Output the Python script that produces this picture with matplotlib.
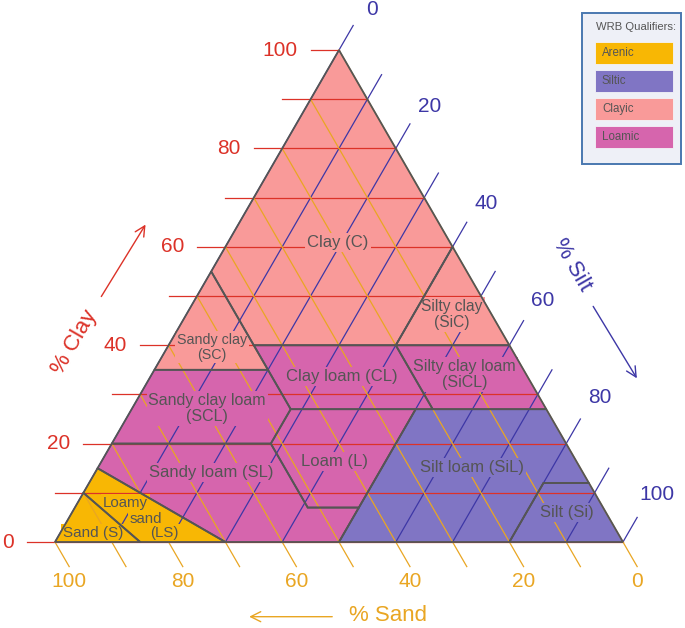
"""
Soil texture triangle with the WRB qualifiers (Arenic, Siltic, Clayic, Loamic).
"""
import numpy as np
import matplotlib.pyplot as plt
from matplotlib.patches import Polygon, Rectangle

plt.rcParams['font.family'] = ['Liberation Sans', 'DejaVu Sans']

# texture classes, vertices as (sand, silt, clay) in %
clay_c = [(0, 0, 100), (0, 40, 60), (20, 40, 40), (45, 15, 40), (45, 0, 55)]
silty_clay = [(0, 40, 60), (0, 60, 40), (20, 40, 40)]
sandy_clay = [(45, 0, 55), (45, 20, 35), (65, 0, 35)]
clay_loam = [(20, 40, 40), (20, 53, 27), (45, 28, 27), (45, 15, 40)]
silty_clay_loam = [(0, 60, 40), (0, 73, 27), (20, 53, 27), (20, 40, 40)]
sandy_clay_loam = [(65, 0, 35), (45, 20, 35), (45, 28, 27), (52, 28, 20), (80, 0, 20)]
loam = [(45, 28, 27), (23, 50, 27), (43, 50, 7), (52, 41, 7), (52, 28, 20)]
silt_loam = [(0, 73, 27), (23, 50, 27), (50, 50, 0), (20, 80, 0), (8, 80, 12), (0, 88, 12)]
silt = [(0, 88, 12), (8, 80, 12), (20, 80, 0), (0, 100, 0)]
sandy_loam = [(80, 0, 20), (52, 28, 20), (52, 41, 7), (43, 50, 7), (50, 50, 0), (70, 30, 0), (85, 0, 15)]
loamy_sand = [(85, 0, 15), (70, 30, 0), (85, 15, 0), (90, 0, 10)]
sand = [(90, 0, 10), (85, 15, 0), (100, 0, 0)]

# WRB qualifier of each class
qualifiers = ['Arenic', 'Siltic', 'Clayic', 'Loamic']
qualifier_colors = ['#F8B704', '#8075C4', '#F99A99', '#D665AD']
classes = [
    (clay_c, 'Clayic'), (silty_clay, 'Clayic'), (sandy_clay, 'Clayic'),
    (clay_loam, 'Loamic'), (silty_clay_loam, 'Loamic'), (sandy_clay_loam, 'Loamic'),
    (loam, 'Loamic'), (sandy_loam, 'Loamic'),
    (silt_loam, 'Siltic'), (silt, 'Siltic'),
    (loamy_sand, 'Arenic'), (sand, 'Arenic'),
]

# class labels: text, clay %, silt %, font size, qualifier
labels = [
    ('Clay (C)', 60.8, 19.4, 12, 'Clayic'),
    ('Silty clay\n(SiC)', 46.2, 46.8, 11.2, 'Clayic'),
    ('Sandy clay\n(SC)', 39.6, 7.8, 10.3, 'Clayic'),
    ('Sandy clay loam\n(SCL)', 27.2, 13.2, 11.5, 'Loamic'),
    ('Clay loam (CL)', 33.7, 33.7, 12, 'Loamic'),
    ('Silty clay loam\n(SiCL)', 34.1, 55.1, 11.5, 'Loamic'),
    ('Loam (L)', 16.3, 41.0, 12, 'Loamic'),
    ('Sandy loam (SL)', 14.2, 20.4, 12, 'Loamic'),
    ('Silt loam (SiL)', 15.2, 65.8, 12, 'Siltic'),
    ('Silt (Si)', 5.9, 87.2, 12, 'Siltic'),
    ('Loamy', 7.9, 8.5, 10.8, 'Arenic'),
    ('sand', 4.7, 13.7, 10.8, 'Arenic'),
    ('(LS)', 1.8, 18.3, 10.8, 'Arenic'),
    ('Sand (S)', 1.8, 5.8, 11, 'Arenic'),
]

grid_values = list(range(0, 101, 10))
tick_values = [0, 20, 40, 60, 80, 100]

RED = '#DC3228'
BLUE = '#3D37A6'
YELLOW = '#E9A623'
EDGE = '#555555'
H = np.sqrt(3) / 2
TICK = 5.0


def to_xy(silt_pc, clay_pc):
    """ Ternary (silt, clay) -> cartesian, base length 100. """
    return silt_pc + clay_pc / 2.0, clay_pc * H


fig = plt.figure(figsize=(6.85, 6.28), dpi=100)
ax = fig.add_axes([0, 0, 1, 1])
ax.set_xlim(-9.68, 110.92)
ax.set_ylim(-15.14, 95.42)
ax.axis('off')

color_of = dict(zip(qualifiers, qualifier_colors))

# filled classes and their borders
for verts, q in classes:
    pts = [to_xy(si, cl) for sa, si, cl in verts]
    ax.add_patch(Polygon(pts, closed=True, fc=color_of[q], ec='none', zorder=1))
    ax.add_patch(Polygon(pts, closed=True, fill=False, ec=EDGE, lw=1.3, zorder=4,
                         joinstyle='miter'))

# grid lines with their ticks
for v in grid_values:
    # clay: horizontal, tick to the left
    ax.plot([v / 2 - TICK, 100 - v / 2], [v * H, v * H], color=RED, lw=0.9, zorder=2)
    # silt: parallel to the left side, tick beyond the right side
    x0, y0 = to_xy(v, 0)
    x1, y1 = to_xy(v, 100 - v)
    ax.plot([x0, x1 + TICK * 0.5], [y0, y1 + TICK * H], color=BLUE, lw=0.9, zorder=2)
    # sand: parallel to the right side, tick below the base
    x0, y0 = to_xy(0, v)
    x1, y1 = to_xy(v, 0)
    ax.plot([x0, x1 + TICK * 0.5], [y0, y1 - TICK * H], color=YELLOW, lw=0.9, zorder=2)

for v in tick_values:
    ax.text(v / 2 - TICK - 2.3, v * H, str(v), color=RED, fontsize=15,
            ha='right', va='center')
    x1, y1 = to_xy(v, 100 - v)
    ax.text(x1 + TICK * 0.5 + 3.4, y1 + TICK * H + 2.8 + 0.012 * v, str(v),
            color=BLUE, fontsize=15, ha='center', va='center')
    x1, y1 = to_xy(100 - v, 0)
    ax.text(x1 + TICK * 0.5, -TICK * H - 2.7, str(v), color=YELLOW,
            fontsize=15, ha='center', va='center')

# class labels
for text, cl, si, size, q in labels:
    x, y = to_xy(si, cl)
    ax.text(x, y, text, fontsize=size, color='#555555', ha='center', va='center',
            linespacing=1.1, zorder=3,
            bbox=dict(boxstyle='square,pad=0.12', fc=color_of[q], ec='none'))

# axis titles and arrows
ax.text(3.5, 35.2, '% Clay', color=RED, fontsize=16, rotation=60,
        ha='center', va='center')
ax.annotate('', xy=(16.2, 56.3), xytext=(7.9, 42.8),
            arrowprops=dict(arrowstyle='->', color=RED, lw=1.0,
                            mutation_scale=18))
ax.text(91.0, 48.8, '% Silt', color=BLUE, fontsize=16, rotation=-60,
        ha='center', va='center')
ax.annotate('', xy=(102.7, 28.4), xytext=(94.5, 41.9),
            arrowprops=dict(arrowstyle='->', color=BLUE, lw=1.0,
                            mutation_scale=18))
ax.text(58.6, -13.0, '% Sand', color=YELLOW, fontsize=16,
        ha='center', va='center')
ax.annotate('', xy=(33.7, -13.15), xytext=(49.3, -13.15),
            arrowprops=dict(arrowstyle='->', color=YELLOW, lw=1.0,
                            mutation_scale=18))

# legend box, drawn in its own pixel-like axes
leg = fig.add_axes([581 / 685, 1 - 165 / 628, 101 / 685, 153 / 628])
leg.set_xlim(0, 101)
leg.set_ylim(153, 0)
leg.axis('off')
leg.add_patch(Rectangle((0.7, 0.7), 99.6, 151.6, fc='#EEF0F7', ec='#4A78B0', lw=1.4))
leg.text(55, 15, 'WRB Qualifiers:', fontsize=8.1, color='#555555',
         ha='center', va='center')
for i, (name, col) in enumerate(zip(qualifiers, qualifier_colors)):
    top = 29.5 + i * 28.2
    leg.add_patch(Rectangle((14, top), 78, 22, fc=col, ec='#F4F4F8', lw=0.6))
    leg.text(21, top + 11, name, fontsize=8.3, color='#555555', va='center')

fig.savefig('out.png', dpi=100)
plt.close(fig)
